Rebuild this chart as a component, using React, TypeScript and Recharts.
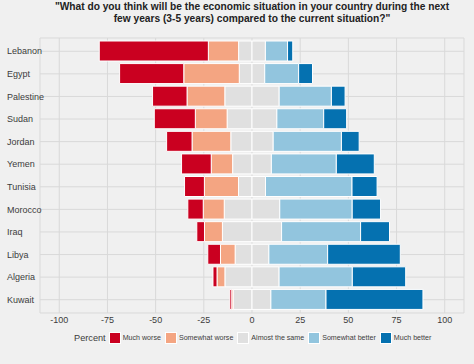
import { BarChart, Bar, XAxis, YAxis, CartesianGrid } from 'recharts';

const countries = ['Lebanon', 'Egypt', 'Palestine', 'Sudan', 'Jordan', 'Yemen', 'Tunisia', 'Morocco', 'Iraq', 'Libya', 'Algeria', 'Kuwait'];
const muchWorse = [56.6, 33.3, 17.9, 21.3, 13.2, 15.4, 10.3, 8.0, 4.0, 6.6, 2.1, 1.0];
const somewhatWorse = [15.7, 28.8, 19.6, 16.5, 20.1, 11.1, 17.7, 10.9, 9.3, 7.6, 4.1, 0.7];
const almostSame = [13.9, 13.2, 28.2, 25.8, 22.0, 20.1, 14.0, 28.8, 30.7, 17.5, 28.1, 19.6];
const somewhatBetter = [11.5, 17.6, 27.1, 24.3, 35.4, 33.7, 44.9, 37.6, 41.0, 30.5, 38.0, 28.6];
const muchBetter = [2.7, 7.2, 7.1, 11.9, 9.2, 19.7, 13.0, 14.7, 15.0, 37.7, 27.7, 50.3];
const xTicks = [-100, -75, -50, -25, 0, 25, 50, 75, 100];

const legendItems = [
  { label: 'Much worse', color: '#ca0020' },
  { label: 'Somewhat worse', color: '#f4a582' },
  { label: 'Almost the same', color: '#e0e0e0' },
  { label: 'Somewhat better', color: '#92c5de' },
  { label: 'Much better', color: '#0571b0' },
];

// neutral answers are split half each side of zero
const data = countries.map((c, i) => ({
  country: c,
  sameNeg: -almostSame[i] / 2,
  sw: -somewhatWorse[i],
  mw: -muchWorse[i],
  samePos: almostSame[i] / 2,
  sb: somewhatBetter[i],
  mb: muchBetter[i],
}));

const font = '"Liberation Sans", Arial, Helvetica, sans-serif';

const CountryTick = ({ y, payload }: any) => (
  <text x={7} y={y} dy="0.35em" textAnchor="start" fontSize={9} fill="#3c3c3c" fontFamily={font}>
    {payload.value}
  </text>
);

export default function App() {
  return (
    <div style={{ position: 'fixed', left: 0, top: 0, width: 474, height: 364, background: '#f0f0f0', fontFamily: font }}>
      <div style={{ position: 'absolute', left: 20, width: 464, top: 1, textAlign: 'center', fontSize: 10.2, fontWeight: 'bold', lineHeight: '12px', color: '#222', whiteSpace: 'nowrap' }}>
        "What do you think will be the economic situation in your country during the next
        <br />
        few years (3-5 years) compared to the current situation?"
      </div>
      <BarChart
        width={474}
        height={364}
        data={data}
        layout="vertical"
        stackOffset="sign"
        barSize={20}
        margin={{ top: 38, right: 10, bottom: 31, left: 0 }}
        style={{ position: 'absolute', left: 0, top: 0 }}
      >
        <CartesianGrid stroke="#d9d9d9" strokeWidth={1} />
        <XAxis
          type="number"
          domain={[-110, 110]}
          ticks={xTicks}
          axisLine={false}
          tickLine={false}
          tickSize={0}
          tickMargin={4}
          height={20}
          tick={{ fontSize: 9, fill: '#3c3c3c', fontFamily: font }}
        />
        <YAxis
          type="category"
          dataKey="country"
          width={40}
          interval={0}
          axisLine={false}
          tickLine={false}
          padding={{ top: 2, bottom: 2 }}
          tick={<CountryTick />}
        />
        <Bar dataKey="sameNeg" stackId="a" fill="#e0e0e0" stroke="#ffffff" strokeWidth={1} isAnimationActive={false} />
        <Bar dataKey="sw" stackId="a" fill="#f4a582" stroke="#ffffff" strokeWidth={1} isAnimationActive={false} />
        <Bar dataKey="mw" stackId="a" fill="#ca0020" stroke="#ffffff" strokeWidth={1} isAnimationActive={false} />
        <Bar dataKey="samePos" stackId="a" fill="#e0e0e0" stroke="#ffffff" strokeWidth={1} isAnimationActive={false} />
        <Bar dataKey="sb" stackId="a" fill="#92c5de" stroke="#ffffff" strokeWidth={1} isAnimationActive={false} />
        <Bar dataKey="mb" stackId="a" fill="#0571b0" stroke="#ffffff" strokeWidth={1} isAnimationActive={false} />
      </BarChart>
      <div style={{ position: 'absolute', top: 331, left: 74, display: 'flex', alignItems: 'center', height: 13, whiteSpace: 'nowrap' }}>
        <span style={{ fontSize: 9.2, color: '#3c3c3c', marginRight: 3 }}>Percent</span>
        {legendItems.map((it) => (
          <span key={it.label} style={{ display: 'flex', alignItems: 'center', marginRight: 4 }}>
            <span style={{ display: 'inline-block', width: 10, height: 10, background: it.color, border: '1px solid #fff', marginRight: 2 }} />
            <span style={{ fontSize: 7.1, color: '#3c3c3c' }}>{it.label}</span>
          </span>
        ))}
      </div>
    </div>
  );
}
